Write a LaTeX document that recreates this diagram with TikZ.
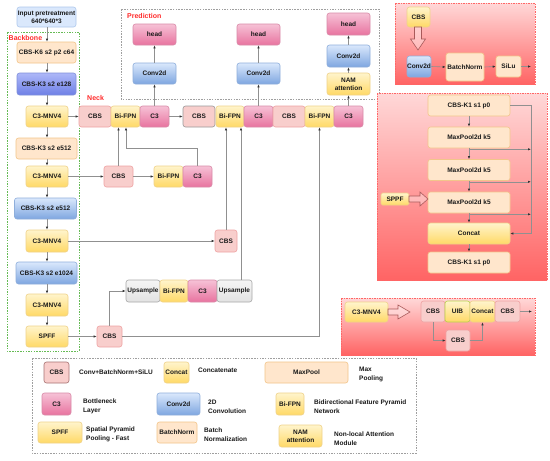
\documentclass[tikz,border=0pt]{standalone}
\usepackage{fontspec}
\setmainfont{Liberation Sans}
\usetikzlibrary{arrows.meta,calc}
\definecolor{peachF}{HTML}{FFE6CC}
\definecolor{peachD}{HTML}{F2C58A}
\definecolor{ylwT}{HTML}{FFF4CC}
\definecolor{ylwB}{HTML}{FFD966}
\definecolor{ylwD}{HTML}{EFD28A}
\definecolor{pnkF}{HTML}{F8CECC}
\definecolor{pnkD}{HTML}{EFA3A3}
\definecolor{c3T}{HTML}{F6C2D6}
\definecolor{c3B}{HTML}{E8739F}
\definecolor{c3D}{HTML}{D98AA8}
\definecolor{bluT}{HTML}{DAE8FC}
\definecolor{bluB}{HTML}{7EA6E0}
\definecolor{bluD}{HTML}{8EAEDB}
\definecolor{purT}{HTML}{AEB8F8}
\definecolor{purB}{HTML}{6E80E6}
\definecolor{purD}{HTML}{8090DA}
\definecolor{gryT}{HTML}{F5F5F5}
\definecolor{gryB}{HTML}{E2E2E2}
\definecolor{gryD}{HTML}{A8A8A8}
\definecolor{inF}{HTML}{DAE8FC}
\definecolor{inD}{HTML}{AEC8EC}
\definecolor{lineC}{HTML}{909090}
\definecolor{tipC}{HTML}{333333}
\definecolor{panT}{HTML}{FFD8D8}
\definecolor{panB}{HTML}{FF6464}
\definecolor{panD}{HTML}{FF6666}
\definecolor{redL}{HTML}{FF2A2A}
\definecolor{grnD}{HTML}{66BB55}
\definecolor{txt}{HTML}{1A1A1A}
\definecolor{limeD}{HTML}{B8D24A}
\definecolor{hollowD}{HTML}{A85A5A}
\begin{document}
\begin{tikzpicture}[x=1pt,y=-1pt,
  bx/.style={rounded corners=2.5pt, inner sep=0pt, align=center, line width=0.6pt,
    text=txt, font=\fontsize{6.5}{7.8}\selectfont\bfseries},
  peach/.style={bx, fill=peachF, draw=peachD},
  ylw/.style={bx, top color=ylwT, bottom color=ylwB, draw=ylwD},
  pnk/.style={bx, fill=pnkF, draw=pnkD},
  cthree/.style={bx, top color=c3T, bottom color=c3B, draw=c3D},
  blu/.style={bx, top color=bluT, bottom color=bluB, draw=bluD},
  purp/.style={bx, top color=purT, bottom color=purB, draw=purD},
  gry/.style={bx, top color=gryT, bottom color=gryB, draw=gryD},
  inbox/.style={bx, fill=inF, draw=inD},
  conn/.style={draw=lineC, line width=0.6pt, -{Latex[length=3pt,width=2.4pt,color=tipC]}},
  panel/.style={draw=panD, dash pattern=on 1.5pt off 1pt, top color=panT, bottom color=panB, line width=0.6pt},
  grpbox/.style={draw=gray!75, dash pattern=on 1.5pt off 1.2pt, line width=0.7pt},
  grnbox/.style={draw=grnD, dash pattern=on 1.5pt off 1.2pt, line width=0.8pt},
  grplabel/.style={text=redL, font=\fontsize{7}{8}\selectfont\bfseries, inner sep=0pt, anchor=west},
  desc/.style={text=txt, font=\fontsize{6.5}{8.8}\selectfont\bfseries, inner sep=0pt, anchor=west, align=left},
  hollow/.style={draw=hollowD, line width=0.6pt, fill=white, fill opacity=0.35}
]
\useasboundingbox (0,0) rectangle (550,461);
\fill[white] (0,0) rectangle (550,461);

% group boxes
\draw[grnbox] (7,32) rectangle (79,351);
\draw[grpbox] (121,9) rectangle (379,99);
\draw[grpbox] (32,358) rectangle (416,453);
\draw[panel] (395,3) rectangle (535,84);
\draw[panel] (377,93) rectangle (547,280);
\draw[panel] (341,298) rectangle (535,355);

\node[grplabel] (lbb) at (8.5,38) {Backbone};
\node[grplabel] (lneck) at (87,98) {Neck};
\node[grplabel] (lpred) at (127,16) {Prediction};

% input and backbone
\node[inbox, minimum width=59pt, minimum height=20pt] (inp) at (46.5,17) {Input pretreatment\\640*640*3};
\node[peach, minimum width=59pt, minimum height=21pt] (bb1) at (46.5,52.5) {CBS-K6 s2 p2 c64};
\node[purp, minimum width=59pt, minimum height=22pt] (bb2) at (46.5,84) {CBS-K3 s2 e128};
\node[ylw, minimum width=42pt, minimum height=21pt] (bb3) at (47,116.5) {C3-MNV4};
\node[peach, minimum width=61pt, minimum height=21pt] (bb4) at (46.5,148.5) {CBS-K3 s2 e512};
\node[ylw, minimum width=42pt, minimum height=21pt] (bb5) at (47,176.5) {C3-MNV4};
\node[blu, minimum width=62pt, minimum height=21pt] (bb6) at (45.5,208.5) {CBS-K3 s2 e512};
\node[ylw, minimum width=42pt, minimum height=22pt] (bb7) at (47,241) {C3-MNV4};
\node[blu, minimum width=61pt, minimum height=22pt] (bb8) at (46.5,273) {CBS-K3 s2 e1024};
\node[ylw, minimum width=42pt, minimum height=22pt] (bb9) at (47,305) {C3-MNV4};
\node[ylw, minimum width=42pt, minimum height=21pt] (bb10) at (47,336.5) {SPFF};

\foreach \a/\b in {inp/bb1,bb1/bb2,bb2/bb3,bb3/bb4,bb4/bb5,bb5/bb6,bb6/bb7,bb7/bb8,bb8/bb9,bb9/bb10}
  \draw[conn] (47,0 |- \a.south) -- (47,0 |- \b.north);

% neck top row
\node[pnk, minimum width=32pt, minimum height=21pt] (n1) at (95,116.5) {CBS};
\node[ylw, minimum width=29pt, minimum height=21pt] (n2) at (125.5,116.5) {Bi-FPN};
\node[cthree, minimum width=29pt, minimum height=21pt] (n3) at (154.5,116.5) {C3};
\node[pnk, draw=gray!80, minimum width=32pt, minimum height=21pt] (n4) at (199,116.5) {CBS};
\node[ylw, minimum width=28pt, minimum height=21pt] (n5) at (230,116.5) {Bi-FPN};
\node[cthree, minimum width=29pt, minimum height=21pt] (n6) at (258.5,116.5) {C3};
\node[pnk, minimum width=32pt, minimum height=21pt] (n7) at (289,116.5) {CBS};
\node[ylw, minimum width=29pt, minimum height=21pt] (n8) at (319.5,116.5) {Bi-FPN};
\node[cthree, minimum width=29pt, minimum height=21pt] (n9) at (348.5,116.5) {C3};

% prediction
\node[cthree, minimum width=43pt, minimum height=21pt] (h1) at (154.5,34.5) {head};
\node[blu, minimum width=43pt, minimum height=21pt] (c1) at (154.5,73.5) {Conv2d};
\node[cthree, minimum width=43pt, minimum height=21pt] (h2) at (258.5,34.5) {head};
\node[blu, minimum width=43pt, minimum height=21pt] (c2) at (258.5,73.5) {Conv2d};
\node[cthree, minimum width=43pt, minimum height=22pt] (h3) at (348.5,24) {head};
\node[blu, minimum width=43pt, minimum height=22pt] (c3) at (348.5,56) {Conv2d};
\node[ylw, minimum width=43pt, minimum height=22pt] (nam) at (348.5,84) {NAM\\attention};

\draw[conn] (bb3.east) -- (n1.west);
\draw[conn] (n3.east) -- (n4.west);
\draw[conn] (n3.north) -- (c1.south);
\draw[conn] (c1.north) -- (h1.south);
\draw[conn] (n6.north) -- (c2.south);
\draw[conn] (c2.north) -- (h2.south);
\draw[conn] (n9.north) -- (nam.south);
\draw[conn] (nam.north) -- (c3.south);
\draw[conn] (c3.north) -- (h3.south);

% second row
\node[pnk, minimum width=29pt, minimum height=21pt] (r1) at (118.5,176.5) {CBS};
\node[ylw, minimum width=29pt, minimum height=21pt] (r2) at (168.5,176.5) {Bi-FPN};
\node[cthree, minimum width=29pt, minimum height=21pt] (r3) at (197.5,176.5) {C3};
\node[pnk, minimum width=22pt, minimum height=22pt] (r4) at (226,241) {CBS};
\node[gry, minimum width=34pt, minimum height=22pt] (u1) at (143,291) {Upsample};
\node[ylw, minimum width=28pt, minimum height=22pt] (u2) at (174,291) {Bi-FPN};
\node[cthree, minimum width=29pt, minimum height=22pt] (u3) at (202.5,291) {C3};
\node[gry, minimum width=35pt, minimum height=22pt] (u4) at (234.5,291) {Upsample};
\node[pnk, minimum width=25pt, minimum height=21pt] (r5) at (109.5,336.5) {CBS};

\coordinate (k1) at (126,148);
\coordinate (k2) at (241,280);
\draw[conn] (bb5.east) -- (r1.west);
\draw[conn] (r1.east) -- (r2.west);
\draw[conn] (r1.north) -- (r1.north |- n2.south);
\draw[conn] (r3.north) |- (k1) -- (k1 |- n2.south);
\draw[conn] (bb7.east) -- (r4.west);
\draw[conn] (r4.north) -- (r4.north |- n5.south);
\draw[conn] (k2) -- (k2 |- n5.south);
\draw[conn] (bb10.east) -- (r5.west);
\draw[conn] (r5.north) |- (u1.west);
\draw[conn] (r5.east) -| (n8.south);

% panel 1: CBS
\node[ylw, minimum width=23pt, minimum height=20pt] (p1cbs) at (418.5,17) {CBS};
\node[blu, minimum width=24pt, minimum height=21pt] (p1conv) at (419,66.5) {Conv2d};
\node[peach, minimum width=38pt, minimum height=28pt] (p1bn) at (465,67) {BatchNorm};
\node[peach, minimum width=25pt, minimum height=21pt] (p1silu) at (508.5,66.5) {SiLu};
\coordinate (p1out) at (531,66.5);
\draw[hollow] (414.5,27) -- (421.5,27) -- (421.5,39) -- (425.5,39) -- (418,50) -- (410.5,39) -- (414.5,39) -- cycle;
\draw[conn] (p1conv.east) -- (p1bn.west);
\draw[conn] (p1bn.east) -- (p1silu.west);
\draw[conn] (p1silu.east) -- (p1out);

% panel 2: SPPF
\node[peach, minimum width=82pt, minimum height=21pt] (s1) at (469,105.5) {CBS-K1 s1 p0};
\node[peach, minimum width=82pt, minimum height=21pt] (s2) at (469,137.5) {MaxPool2d k5};
\node[peach, minimum width=82pt, minimum height=21pt] (s3) at (469,170) {MaxPool2d k5};
\node[peach, minimum width=82pt, minimum height=21pt] (s4) at (469,202.5) {MaxPool2d k5};
\node[ylw, minimum width=82pt, minimum height=21pt] (s5) at (469,233.5) {Concat};
\node[peach, minimum width=82pt, minimum height=21pt] (s6) at (469,262.5) {CBS-K1 s1 p0};
\node[ylw, rounded corners=1.5pt, minimum width=28pt, minimum height=12pt] (sp) at (395,199) {SPPF};
\coordinate (sR) at (531,233.5);
\draw[hollow] (409,196) -- (420,196) -- (420,192) -- (428,199) -- (420,206) -- (420,202) -- (409,202) -- cycle;
\foreach \a/\b in {s1/s2,s2/s3,s3/s4,s4/s5,s5/s6}
  \draw[conn] (\a.south) -- (\b.north);
\draw[conn] (s1.east) -| (sR) -- (s5.east);
\draw[conn] ([yshift=-1pt]s2.south) -- ([yshift=-1pt]s2.south -| sR);
\draw[conn] ([yshift=-1pt]s3.south) -- ([yshift=-1pt]s3.south -| sR);
\draw[conn] ([yshift=-1pt]s4.south) -- ([yshift=-1pt]s4.south -| sR);

% panel 3: C3-MNV4
\node[ylw, minimum width=43pt, minimum height=20pt] (m0) at (366.5,312) {C3-MNV4};
\node[pnk, minimum width=24pt, minimum height=21pt] (m1) at (433,311.5) {CBS};
\node[ylw, draw=limeD, minimum width=25pt, minimum height=21pt] (m2) at (457.5,311.5) {UIB};
\node[ylw, minimum width=25pt, minimum height=21pt] (m3) at (482.5,311.5) {Concat};
\node[pnk, minimum width=25pt, minimum height=21pt] (m4) at (507.5,311.5) {CBS};
\node[pnk, minimum width=24pt, minimum height=21pt] (m5) at (458,340.5) {CBS};
\coordinate (mout) at (532,311.5);
\draw[hollow] (388,309) -- (398,309) -- (398,305) -- (410,312) -- (398,319) -- (398,315) -- (388,315) -- cycle;
\draw[conn] (m4.east) -- (mout);
\draw[conn] (m1.south) |- (m5.west);
\draw[conn] (m5.east) -| (m3.south);

% legend
\node[pnk, draw=pnkD!70!black, minimum width=25pt, minimum height=21pt] (l1) at (56.5,372.5) {CBS};
\node[desc] (d1) at (79,372) {Conv+BatchNorm+SiLU};
\node[ylw, minimum width=25pt, minimum height=21pt] (l2) at (176.5,372.5) {Concat};
\node[desc] (d2) at (198,370) {Concatenate};
\node[peach, minimum width=83pt, minimum height=21pt] (l3) at (306.5,372.5) {MaxPool};
\node[desc] (d3) at (359,374.5) {Max\\Pooling};
\node[cthree, minimum width=29pt, minimum height=22pt] (l4) at (56.5,404) {C3};
\node[desc] (d4) at (83,406.5) {Bottleneck\\Layer};
\node[blu, minimum width=43pt, minimum height=22pt] (l5) at (178.5,404) {Conv2d};
\node[desc] (d5) at (208,406.5) {2D\\Convolution};
\node[ylw, minimum width=28pt, minimum height=22pt] (l6) at (290,404) {Bi-FPN};
\node[desc] (d6) at (314,406.5) {Bidirectional Feature Pyramid\\Network};
\node[ylw, minimum width=44pt, minimum height=21pt] (l7) at (60,432.5) {SPFF};
\node[desc] (d7) at (86,434.5) {Spatial Pyramid\\Pooling - Fast};
\node[peach, minimum width=40pt, minimum height=21pt] (l8) at (177,432.5) {BatchNorm};
\node[desc] (d8) at (204,435) {Batch\\Normalization};
\node[ylw, minimum width=43pt, minimum height=22pt] (l9) at (300.5,436) {NAM\\attention};
\node[desc] (d9) at (334,438.5) {Non-local Attention\\Module};
\end{tikzpicture}
\end{document}
